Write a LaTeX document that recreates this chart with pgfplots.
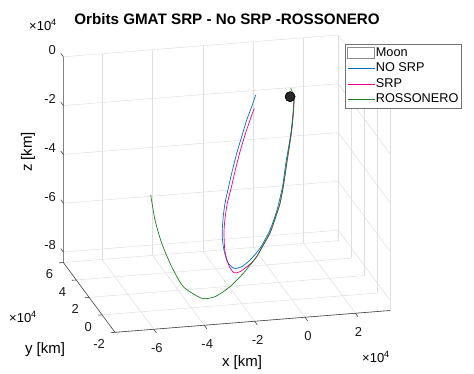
\documentclass[border=0pt]{standalone}
\usepackage{fontspec}
\setmainfont{Liberation Sans}
\usepackage{pgfplots}
\pgfplotsset{compat=1.18}
\definecolor{mblue}{rgb}{0,0.447,0.741}
\definecolor{mgreen}{rgb}{0.1,0.5,0.12}
\definecolor{axgray}{rgb}{0.25,0.25,0.25}
\begin{document}
\begin{tikzpicture}
\useasboundingbox (0,0) rectangle (474pt,374pt);
\begin{axis}[
  anchor=origin, at={(292.1pt,279.9pt)},
  x={(25.2pt,2.0pt)}, y={(-6.46pt,8.73pt)}, z={(0pt,24.4pt)},
  xmin=-7.54, xmax=3.37, ymin=-2, ymax=6, zmin=-8.43, zmax=0,
  xtick={-6,-4,-2,0,2}, ytick={-2,0,2,4,6}, ztick={-8,-6,-4,-2,0},
  xticklabels={-6,-4,-2,0,2}, yticklabels={-2,0,2,4,6}, zticklabels={-8,-6,-4,-2,0},
  grid=major, major grid style={black!13, line width=0.5pt},
  major tick length=0pt,
  axis line style={draw=none},
  ticklabel style={font=\fontsize{13}{13}\selectfont, text=black!90, inner sep=0pt},
  xticklabel style={anchor=center, xshift=3pt, yshift=-18.5pt},
  yticklabel style={anchor=east, xshift=-10pt, yshift=-12pt},
  zticklabel style={anchor=east, xshift=-7.3pt, yshift=6.5pt},
  clip=false,
  legend cell align=left,
  legend image code/.code={\draw[#1] (0pt,0pt) -- (27pt,0pt);},
  legend style={at={(0.862,0.97)}, anchor=north west, draw=black!55, line width=0.6pt, fill=white,
    font=\fontsize{12.7}{12.7}\selectfont, inner xsep=2pt, inner ysep=2pt, row sep=2pt,
    nodes={inner sep=1pt, text height=9pt, text depth=2.5pt}},
]
% axis lines
\draw[axgray, line width=0.6pt] (axis cs:-7.54,-2,-8.43) -- (axis cs:3.37,-2,-8.43);
\draw[axgray, line width=0.6pt] (axis cs:-7.54,-2,-8.43) -- (axis cs:-7.54,6,-8.43) -- (axis cs:-7.54,6,0);
% tick marks (outside)
\draw[axgray, line width=0.6pt]
  (axis cs:-6,-2,-8.43) -- (axis cs:-6,-2.4,-8.43)
  (axis cs:-4,-2,-8.43) -- (axis cs:-4,-2.4,-8.43)
  (axis cs:-2,-2,-8.43) -- (axis cs:-2,-2.4,-8.43)
  (axis cs:0,-2,-8.43) -- (axis cs:0,-2.4,-8.43)
  (axis cs:2,-2,-8.43) -- (axis cs:2,-2.4,-8.43)
  (axis cs:-7.54,-2,-8.43) -- (axis cs:-7.71,-2,-8.43)
  (axis cs:-7.54,0,-8.43) -- (axis cs:-7.71,0,-8.43)
  (axis cs:-7.54,2,-8.43) -- (axis cs:-7.71,2,-8.43)
  (axis cs:-7.54,4,-8.43) -- (axis cs:-7.71,4,-8.43)
  (axis cs:-7.54,6,-8.43) -- (axis cs:-7.71,6,-8.43)
  (axis cs:-7.54,6,0) -- (axis cs:-7.54,6.4,0)
  (axis cs:-7.54,6,-2) -- (axis cs:-7.54,6.4,-2)
  (axis cs:-7.54,6,-4) -- (axis cs:-7.54,6.4,-4)
  (axis cs:-7.54,6,-6) -- (axis cs:-7.54,6.4,-6)
  (axis cs:-7.54,6,-8) -- (axis cs:-7.54,6.4,-8);
\addplot3[only marks, mark=*, mark size=5pt, mark options={fill=black!85, draw=black},
  legend image code/.code={\draw[black!45, fill=white, line width=0.6pt] (0pt,-5.5pt) rectangle (27pt,5.5pt);}]
  coordinates {(-0.08,0,-0.10)};
\addlegendentry{Moon}
\addplot3[mblue, line width=0.7pt, smooth, tension=0.4] coordinates {
(-1.316,0.5,-0.108) (-1.475,0.5,-0.574) (-1.673,0.5,-1.103) (-1.872,0.5,-1.771)
(-2.070,0.5,-2.435) (-2.269,0.5,-3.239) (-2.404,0.5,-3.843) (-2.535,0.5,-4.447)
(-2.606,0.5,-5.002) (-2.646,0.5,-5.655) (-2.602,0.5,-6.220) (-2.443,0.5,-6.848)
(-2.177,0.5,-7.140) (-1.872,0.5,-7.099) (-1.542,0.5,-6.852) (-1.146,0.5,-6.405)
(-0.749,0.5,-5.687) (-0.471,0.5,-4.890) (-0.253,0.5,-3.953) (-0.122,0.5,-3.005)
(-0.007,0.5,-2.334) (0.096,0.5,-1.658) (0.164,0.5,-0.979) (0.196,0.5,-0.519)
};
\addlegendentry{NO SRP}
\addplot3[magenta, line width=0.7pt, smooth, tension=0.4] coordinates {
(-1.372,0.5,-0.648) (-1.542,0.5,-1.114) (-1.741,0.5,-1.712) (-1.939,0.5,-2.381)
(-2.110,0.5,-3.047) (-2.277,0.5,-3.787) (-2.443,0.5,-4.454) (-2.527,0.5,-5.009)
(-2.574,0.5,-5.620) (-2.535,0.5,-6.430) (-2.364,0.5,-7.051) (-2.177,0.5,-7.320)
(-1.939,0.5,-7.299) (-1.701,0.5,-7.138) (-1.503,0.5,-6.990) (-1.277,0.5,-6.738)
(-1.015,0.5,-6.280) (-0.749,0.5,-5.810) (-0.550,0.5,-5.253) (-0.352,0.5,-4.626)
(-0.213,0.5,-3.887) (-0.086,0.5,-3.008) (0.017,0.5,-2.336) (0.112,0.5,-1.659)
(0.176,0.5,-0.980) (0.204,0.5,-0.437)
};
\addlegendentry{SRP}
\addplot3[mgreen, line width=0.7pt, smooth, tension=0.4] coordinates {
(-5.483,0.5,-3.865) (-5.312,0.5,-4.903) (-5.046,0.5,-5.880) (-4.650,0.5,-6.872)
(-4.189,0.5,-7.729) (-3.459,0.5,-8.264) (-2.931,0.5,-8.242) (-2.336,0.5,-7.881)
(-1.808,0.5,-7.375) (-1.542,0.5,-7.057) (-1.277,0.5,-6.738) (-1.015,0.5,-6.280)
(-0.749,0.5,-5.810) (-0.550,0.5,-5.253) (-0.352,0.5,-4.626) (-0.213,0.5,-3.887)
(-0.086,0.5,-3.008) (0.017,0.5,-2.336) (0.112,0.5,-1.659) (0.176,0.5,-0.980)
(0.268,0.75,-0.532) (0.280,1,-0.348) (0.201,1,-0.137)
};
\addlegendentry{ROSSONERO}
\addplot3[forget plot, only marks, mark=*, mark size=5pt, mark options={fill=black!85, draw=black}]
  coordinates {(-0.08,0,-0.10)};
\end{axis}
\node[font=\bfseries\fontsize{15.2}{15.2}\selectfont] at (227pt,355pt) {Orbits GMAT SRP - No SRP -ROSSONERO};
\node[font=\fontsize{15}{15}\selectfont] at (242pt,11pt) {x [km]};
\node[font=\fontsize{15}{15}\selectfont] at (45pt,24pt) {y [km]};
\node[font=\fontsize{15}{15}\selectfont, rotate=90] at (28pt,222pt) {z [km]};
\node[font=\fontsize{13}{13}\selectfont] at (43pt,349pt) {×10\textsuperscript{4}};
\node[font=\fontsize{13}{13}\selectfont] at (23pt,57pt) {×10\textsuperscript{4}};
\node[font=\fontsize{13}{13}\selectfont] at (376pt,17pt) {×10\textsuperscript{4}};
\end{tikzpicture}
\end{document}
